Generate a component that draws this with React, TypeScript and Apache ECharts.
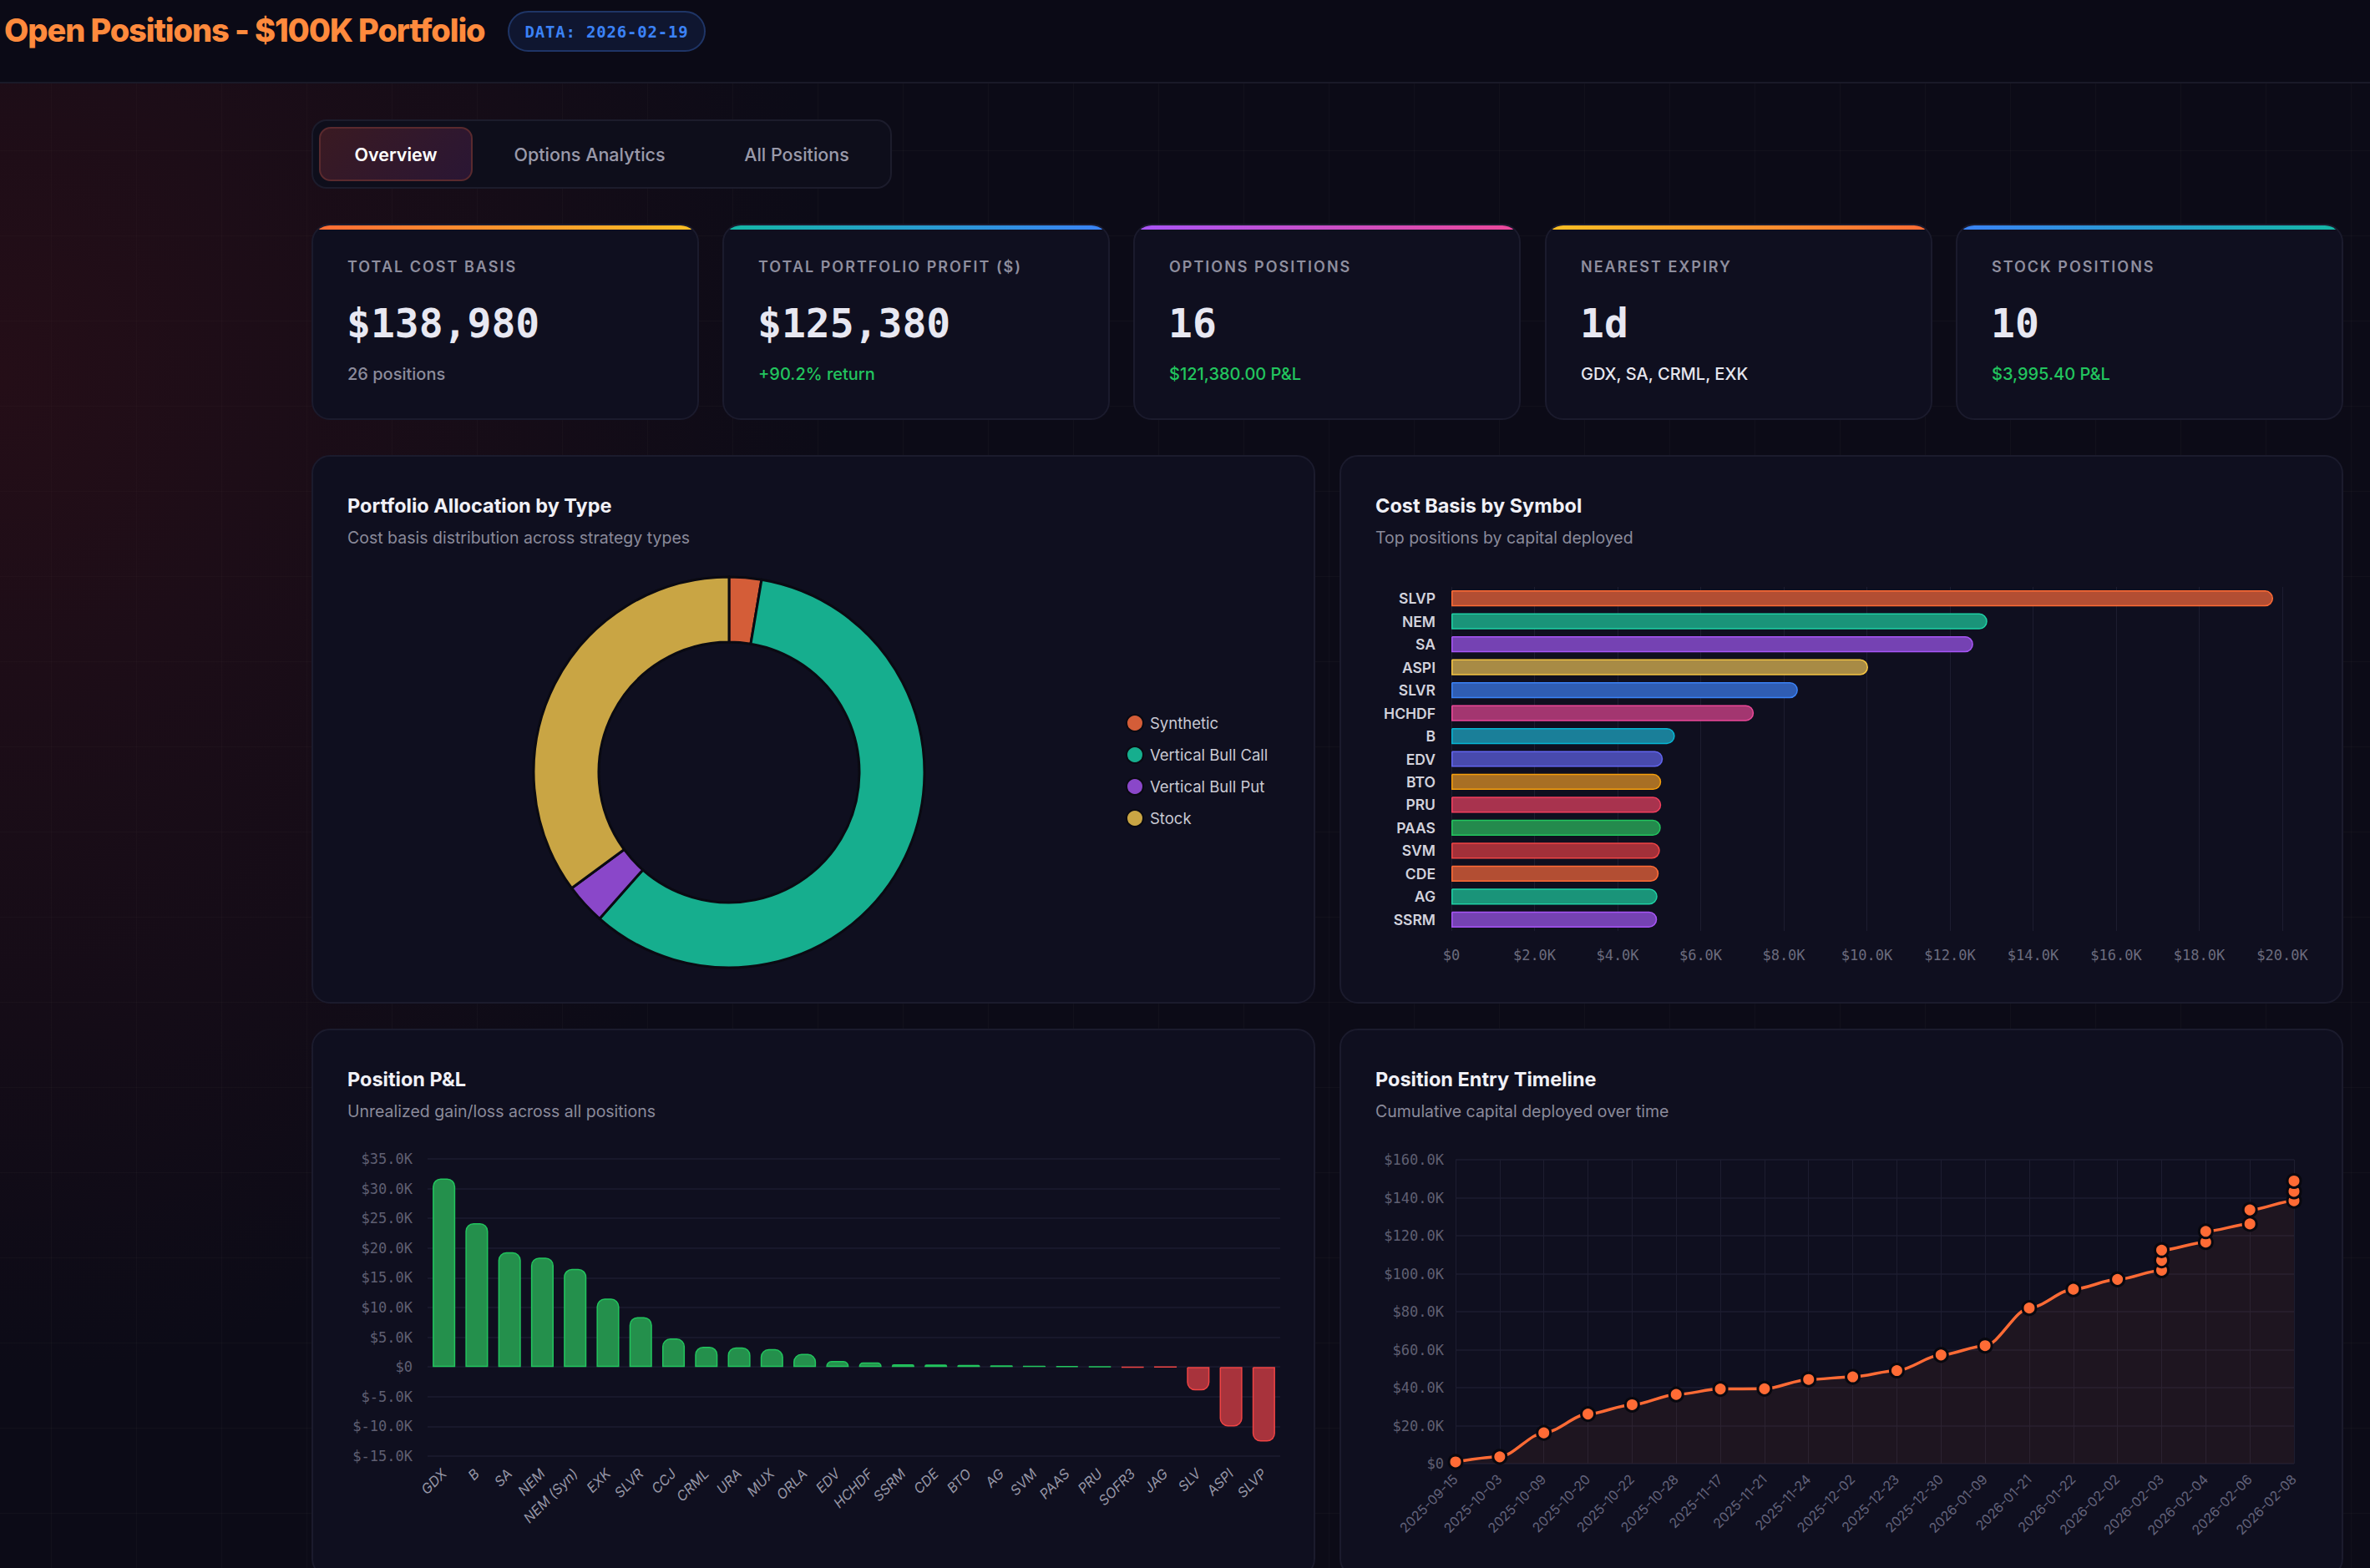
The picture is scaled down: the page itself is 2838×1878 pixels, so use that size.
import React, { useEffect, useRef } from "react";
import * as echarts from "echarts";

// ---------------- DATA ----------------
const allocationTypes = ["Synthetic", "Vertical Bull Call", "Vertical Bull Put", "Stock"];
const allocationValues = [3700, 81800, 4700, 48780];
const allocationColors = ["#d45d38", "#16ae8e", "#8a47c9", "#c9a544"];

const costSymbols = ["SLVP", "NEM", "SA", "ASPI", "SLVR", "HCHDF", "B", "EDV", "BTO", "PRU", "PAAS", "SVM", "CDE", "AG", "SSRM"];
const costValues = [19780, 12900, 12560, 10030, 8340, 7280, 5380, 5090, 5050, 5050, 5040, 5020, 4990, 4960, 4950];
const costFills = ["#b34e33", "#1a9479", "#7542b3", "#a88b45", "#2f5db3", "#a33670", "#1a7f99", "#484aad", "#a86f24", "#a8334e", "#248a4d", "#a33039", "#b34e33", "#1a9479", "#7542b3"];
const costBorders = ["#ff6b35", "#1fd1a5", "#a855f7", "#f5c542", "#3b82f6", "#ec4899", "#06b6d4", "#6366f1", "#f59e0b", "#f43f5e", "#22c55e", "#ef4444", "#ff6b35", "#1fd1a5", "#a855f7"];
const costTicks = { min: 0, max: 20000, interval: 2000 };

const pnlSymbols = ["GDX", "B", "SA", "NEM", "NEM (Syn)", "EXK", "SLVR", "CCJ", "CRML", "URA", "MUX", "ORLA", "EDV", "HCHDF", "SSRM", "CDE", "BTO", "AG", "SVM", "PAAS", "PRU", "SOFR3", "JAG", "SLV", "ASPI", "SLVP"];
const pnlValues = [31700, 24200, 19300, 18400, 16500, 11500, 8400, 4800, 3400, 3300, 3000, 2200, 1000, 750, 450, 420, 350, 280, 220, 150, 80, -60, -10, -3950, -10000, -12550];
const pnlTicks = { min: -15000, max: 35000, interval: 5000 };

const timelineCategories = ["2025-09-15", "2025-10-03", "2025-10-09", "2025-10-20", "2025-10-22", "2025-10-28", "2025-11-17", "2025-11-21", "2025-11-24", "2025-12-02", "2025-12-23", "2025-12-30", "2026-01-09", "2026-01-21", "2026-01-22", "2026-02-02", "2026-02-03", "2026-02-04", "2026-02-06", "2026-02-08"];
const entryDates = ["2025-09-15", "2025-10-03", "2025-10-09", "2025-10-20", "2025-10-22", "2025-10-28", "2025-11-17", "2025-11-21", "2025-11-24", "2025-12-02", "2025-12-23", "2025-12-30", "2026-01-09", "2026-01-21", "2026-01-22", "2026-02-02", "2026-02-03", "2026-02-03", "2026-02-03", "2026-02-04", "2026-02-04", "2026-02-06", "2026-02-06", "2026-02-08", "2026-02-08", "2026-02-08"];
const cumulativeValues = [900, 3600, 16200, 26100, 31000, 36400, 39300, 39400, 44300, 45700, 49000, 57200, 62100, 81900, 91800, 97000, 101800, 107000, 112400, 116600, 122300, 126200, 133600, 138400, 143300, 148800];
const timelineTicks = { min: 0, max: 160000, interval: 20000 };

const kpiLabels = ["TOTAL COST BASIS", "TOTAL PORTFOLIO PROFIT ($)", "OPTIONS POSITIONS", "NEAREST EXPIRY", "STOCK POSITIONS"];
const kpiValues = ["$138,980", "$125,380", "16", "1d", "10"];
const kpiSubs = ["26 positions", "+90.2% return", "$121,380.00 P&L", "GDX, SA, CRML, EXK", "$3,995.40 P&L"];
const kpiSubColors = ["#8b8b9b", "#22c55e", "#22c55e", "#e6e6ee", "#22c55e"];
const kpiGradients = [["#ff6b35", "#fbbf24"], ["#14b8a6", "#3b82f6"], ["#a855f7", "#ec4899"], ["#fbbf24", "#ff6b35"], ["#3b82f6", "#14b8a6"]];

// ---------------- HELPERS ----------------
const MONO = "'DejaVu Sans Mono', 'Liberation Mono', monospace";
const SANS = "Inter, 'Noto Sans', sans-serif";
const kFmt = (v: number) => (v === 0 ? "$0" : "$" + (v / 1000).toFixed(1) + "K");
const GRID_LINE = "#1d1d30";

function EChart({ option }: { option: any }) {
  const ref = useRef<HTMLDivElement>(null);
  useEffect(() => {
    const chart = echarts.init(ref.current!, null, { renderer: "svg" });
    chart.setOption(option);
    return () => chart.dispose();
  }, []);
  return <div ref={ref} style={{ position: "absolute", left: 0, top: 0, width: "100%", height: "100%" }} />;
}

const donutOption = {
  animation: false,
  legend: {
    orient: "vertical",
    left: 973,
    top: 308,
    padding: 0,
    icon: "circle",
    itemWidth: 20,
    itemHeight: 20,
    itemGap: 16,
    textStyle: { color: "#c9c9d3", fontSize: 18.5, fontFamily: SANS, padding: [0, 0, 0, 3] },
    data: allocationTypes,
  },
  series: [
    {
      type: "pie",
      center: [498, 378],
      radius: [156, 234],
      startAngle: 90,
      label: { show: false },
      labelLine: { show: false },
      itemStyle: { borderColor: "#0a0a12", borderWidth: 3 },
      data: allocationTypes.map((n, i) => ({ name: n, value: allocationValues[i], itemStyle: { color: allocationColors[i] } })),
    },
  ],
};

const costOption = {
  animation: false,
  grid: { left: 132, right: 71, top: 156, bottom: 85 },
  xAxis: {
    type: "value",
    min: costTicks.min,
    max: costTicks.max,
    interval: costTicks.interval,
    axisLine: { show: false },
    axisTick: { show: false },
    splitLine: { show: true, lineStyle: { color: GRID_LINE, width: 1 } },
    axisLabel: { color: "#6b6b7d", fontSize: 17, fontFamily: MONO, margin: 20, formatter: kFmt },
  },
  yAxis: {
    type: "category",
    inverse: true,
    data: costSymbols,
    axisLine: { show: false },
    axisTick: { show: false },
    axisLabel: { color: "#d2d2dc", fontSize: 17.5, fontWeight: 600, fontFamily: SANS, margin: 19 },
  },
  series: [
    {
      type: "bar",
      barCategoryGap: "30%",
      data: costValues.map((v, i) => ({
        value: v,
        itemStyle: { color: costFills[i], borderColor: costBorders[i], borderWidth: 1.5, borderRadius: [0, 10, 10, 0] },
      })),
    },
  ],
};

const pnlOption = {
  animation: false,
  grid: { left: 137, right: 40, top: 154, bottom: 143 },
  xAxis: {
    type: "category",
    data: pnlSymbols,
    axisLine: { show: false, onZero: false },
    axisTick: { show: false },
    axisLabel: { color: "#9696a6", fontSize: 16.5, fontFamily: SANS, fontStyle: "italic", rotate: 45, interval: 0, margin: 18 },
  },
  yAxis: {
    type: "value",
    min: pnlTicks.min,
    max: pnlTicks.max,
    interval: pnlTicks.interval,
    axisLine: { show: false },
    axisTick: { show: false },
    splitLine: { show: true, lineStyle: { color: GRID_LINE, width: 1.5 } },
    axisLabel: { color: "#5f5f72", fontSize: 17, fontFamily: MONO, margin: 18, formatter: kFmt },
  },
  series: [
    {
      type: "bar",
      barCategoryGap: "31%",
      data: pnlValues.map((v) => ({
        value: v,
        itemStyle:
          v >= 0
            ? { color: "#24904c", borderColor: "#22c55e", borderWidth: 1.5, borderRadius: [9, 9, 0, 0] }
            : { color: "#a8333c", borderColor: "#ef4444", borderWidth: 1.5, borderRadius: [0, 0, 9, 9] },
      })),
    },
  ],
};

const timelineOption = {
  animation: false,
  grid: { left: 137, right: 57, top: 155, bottom: 134 },
  xAxis: {
    type: "category",
    boundaryGap: false,
    data: timelineCategories,
    axisLine: { show: false },
    axisTick: { show: false },
    splitLine: { show: true, lineStyle: { color: GRID_LINE, width: 1 } },
    axisLabel: { color: "#62627a", fontSize: 16, fontFamily: SANS, rotate: 45, interval: 0, margin: 16 },
  },
  yAxis: {
    type: "value",
    min: timelineTicks.min,
    max: timelineTicks.max,
    interval: timelineTicks.interval,
    axisLine: { show: false },
    axisTick: { show: false },
    splitLine: { show: true, lineStyle: { color: GRID_LINE, width: 1.5 } },
    axisLabel: { color: "#5f5f72", fontSize: 17, fontFamily: MONO, margin: 14, formatter: kFmt },
  },
  series: [
    {
      type: "line",
      smooth: 0.3,
      smoothMonotone: "x",
      data: entryDates.map((d, i) => [d, cumulativeValues[i]]),
      symbol: "circle",
      symbolSize: 16,
      lineStyle: { color: "#ff6b35", width: 3.5 },
      itemStyle: { color: "#ff6b35", borderColor: "#08080f", borderWidth: 3 },
      areaStyle: { color: "rgba(255,107,53,0.09)" },
    },
  ],
};

// ---------------- LAYOUT ----------------
const CARD_BG = "#0f0f1f";
const CARD_BORDER = "2px solid #1b1b2d";

function ChartCard({ left, top, title, subtitle, option }: any) {
  return (
    <div
      style={{
        position: "absolute",
        left,
        top,
        width: 1202,
        height: 657,
        boxSizing: "border-box",
        background: CARD_BG,
        border: CARD_BORDER,
        borderRadius: 22,
        overflow: "hidden",
      }}
    >
      <EChart option={option} />
      <div style={{ position: "absolute", left: 41, top: 44, fontFamily: SANS, fontWeight: 700, fontSize: 23.5, color: "#f0f0f6", lineHeight: "30px", pointerEvents: "none", whiteSpace: "nowrap" }}>
        {title}
      </div>
      <div style={{ position: "absolute", left: 41, top: 84, fontFamily: SANS, fontWeight: 400, fontSize: 19.5, color: "#8a8a9a", lineHeight: "26px", pointerEvents: "none", whiteSpace: "nowrap" }}>
        {subtitle}
      </div>
    </div>
  );
}

const kpiLefts = [373, 865, 1357, 1850, 2342];

export default function App() {
  return (
    <div
      style={{
        position: "fixed",
        left: 0,
        top: 0,
        width: 2838,
        height: 1878,
        overflow: "hidden",
        backgroundColor: "#0c0b17",
        backgroundImage:
          "radial-gradient(ellipse 1000px 1200px at 0px 450px, rgba(70,18,24,0.42), rgba(0,0,0,0) 100%), linear-gradient(rgba(255,255,255,0.022) 1px, transparent 1px), linear-gradient(90deg, rgba(255,255,255,0.022) 1px, transparent 1px)",
        backgroundSize: "100% 100%, 102px 102px, 102px 102px",
        backgroundPosition: "0 0, 0 78px, 61px 0",
        fontFamily: SANS,
      }}
    >
      {/* header */}
      <div style={{ position: "absolute", left: 0, top: 0, width: 2838, height: 100, background: "#0b0a16", borderBottom: "2px solid #1a1a28", boxSizing: "border-box" }} />
      <div style={{ position: "absolute", left: 5, top: 12, fontFamily: SANS, fontWeight: 800, fontSize: 38, lineHeight: "48px", color: "#ff8a3d", letterSpacing: -1.1, whiteSpace: "nowrap" }}>
        Open Positions - $100K Portfolio
      </div>
      <div
        style={{
          position: "absolute",
          left: 608,
          top: 13,
          width: 237,
          height: 49,
          boxSizing: "border-box",
          borderRadius: 25,
          border: "2px solid #1f3566",
          background: "#0f1630",
          color: "#3b82f6",
          fontFamily: MONO,
          fontWeight: 700,
          fontSize: 19,
          letterSpacing: 0.8,
          display: "flex",
          alignItems: "center",
          justifyContent: "center",
          whiteSpace: "nowrap",
        }}
      >
        DATA: 2026-02-19
      </div>

      {/* tabs */}
      <div style={{ position: "absolute", left: 373, top: 143, width: 695, height: 83, boxSizing: "border-box", borderRadius: 18, background: "#0e0e1b", border: "2px solid #1c1c2c" }} />
      <div
        style={{
          position: "absolute",
          left: 382,
          top: 152,
          width: 184,
          height: 65,
          boxSizing: "border-box",
          borderRadius: 14,
          background: "linear-gradient(135deg, #3a1a22 0%, #2a1634 100%)",
          border: "2px solid #5a2a2e",
          color: "#ffffff",
          fontWeight: 600,
          fontSize: 21.5,
          display: "flex",
          alignItems: "center",
          justifyContent: "center",
        }}
      >
        Overview
      </div>
      <div style={{ position: "absolute", left: 606, top: 152, width: 200, height: 65, display: "flex", alignItems: "center", justifyContent: "center", color: "#9a9aaa", fontWeight: 500, fontSize: 21.5, whiteSpace: "nowrap" }}>
        Options Analytics
      </div>
      <div style={{ position: "absolute", left: 864, top: 152, width: 180, height: 65, display: "flex", alignItems: "center", justifyContent: "center", color: "#9a9aaa", fontWeight: 500, fontSize: 21.5, whiteSpace: "nowrap" }}>
        All Positions
      </div>

      {/* KPI cards */}
      {kpiLabels.map((label, i) => (
        <div
          key={label}
          style={{
            position: "absolute",
            left: kpiLefts[i],
            top: 268,
            width: 464,
            height: 235,
            boxSizing: "border-box",
            background: CARD_BG,
            border: CARD_BORDER,
            borderRadius: 22,
            overflow: "hidden",
          }}
        >
          <div style={{ position: "absolute", left: 0, top: 0, width: "100%", height: 5, background: `linear-gradient(90deg, ${kpiGradients[i][0]}, ${kpiGradients[i][1]})` }} />
          <div style={{ position: "absolute", left: 41, top: 37, fontWeight: 600, fontSize: 18, letterSpacing: 2, color: "#8e8e9e", lineHeight: "26px", whiteSpace: "nowrap" }}>{label}</div>
          <div style={{ position: "absolute", left: 40, top: 88, fontFamily: MONO, fontWeight: 700, fontSize: 48, color: "#e8e8f2", lineHeight: "58px", whiteSpace: "nowrap" }}>{kpiValues[i]}</div>
          <div style={{ position: "absolute", left: 41, top: 164, fontWeight: 500, fontSize: 20, color: kpiSubColors[i], lineHeight: "28px", whiteSpace: "nowrap" }}>{kpiSubs[i]}</div>
        </div>
      ))}

      {/* chart cards */}
      <ChartCard left={373} top={545} title="Portfolio Allocation by Type" subtitle="Cost basis distribution across strategy types" option={donutOption} />
      <ChartCard left={1604} top={545} title="Cost Basis by Symbol" subtitle="Top positions by capital deployed" option={costOption} />
      <ChartCard left={373} top={1232} title="Position P&L" subtitle="Unrealized gain/loss across all positions" option={pnlOption} />
      <ChartCard left={1604} top={1232} title="Position Entry Timeline" subtitle="Cumulative capital deployed over time" option={timelineOption} />
    </div>
  );
}
